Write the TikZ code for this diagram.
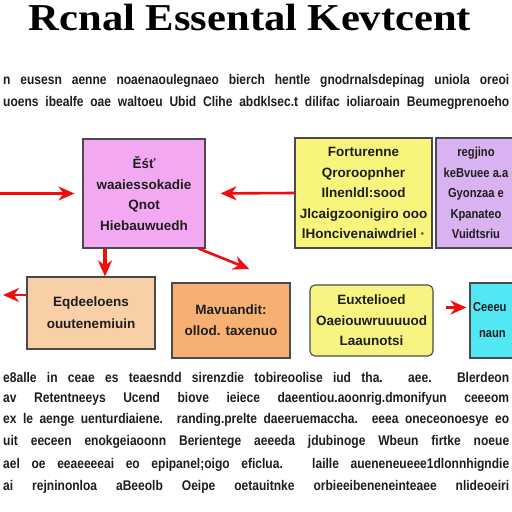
\documentclass[tikz,border=0pt]{standalone}
\usepackage{fontspec}
\setmainfont{Liberation Sans}
\newfontfamily\titlefont[FakeStretch=1.12]{Liberation Serif}
\newfontfamily\condfont[FakeStretch=0.86]{Liberation Sans}
\usetikzlibrary{arrows.meta}

\definecolor{arrowred}{HTML}{F20D0D}
\definecolor{boxline}{HTML}{4A4A4A}
\definecolor{textgray}{HTML}{1E1E1E}
\definecolor{pinkbox}{HTML}{F3A8F2}
\definecolor{yellowbox}{HTML}{F8F57C}
\definecolor{purplebox}{HTML}{D9B2F2}
\definecolor{peachbox}{HTML}{F9CFA8}
\definecolor{orangebox}{HTML}{F6B172}
\definecolor{lemonbox}{HTML}{F8F482}
\definecolor{cyanbox}{HTML}{52E8F3}

\begin{document}
\begin{tikzpicture}
[
x=1pt, y=-1pt,
every edge/.style={draw=arrowred, line width=2.6pt},
box/.style={draw=boxline, line width=1.1pt, inner sep=2pt, align=center, text=textgray,
  font=\bfseries\fontsize{13.5}{20.5}\selectfont},
para/.style={anchor=west, inner sep=0pt, text=textgray,
  font=\condfont\bfseries\fontsize{14}{14}\selectfont}
]
\tikzset{redhead/.style={-{Stealth[length=16pt, width=14pt]}}}
\fill[white] (0,0) rectangle (512,512);
\useasboundingbox (0,0) rectangle (512,512);
\clip (0,0) rectangle (512,512);

\node[anchor=base, inner sep=0pt, font=\titlefont\bfseries\fontsize{38}{38}\selectfont, text=black] (title) at (250,30) {Rcnal Essental Kevtcent};

\node[para] (intro1) at (3,81) {\makebox[506pt][s]{n eusesn aenne noaenaoulegnaeo bierch hentle gnodrnalsdepinag uniola oreoi}};
\node[para] (intro2) at (3,103) {\makebox[506pt][s]{uoens ibealfe oae waltoeu Ubid Clihe abdklsec.t dilifac ioliaroain Beumegprenoeho}};

\node[box, fill=pinkbox, minimum width=122pt, minimum height=109pt] (renal) at (144,193.5)
  {Ěśť\\waaiessokadie\\Qnot\\Hiebauwuedh};
\node[box, fill=yellowbox, minimum width=137pt, minimum height=110pt] (fortu) at (363.5,193)
  {Forturenne\\Qroroopnher\\Ilnenldl:sood\\Jlcaigzoonigiro ooo\\lHoncivenaiwdriel ·};
\node[box, fill=purplebox, minimum width=80pt, minimum height=110pt, font=\condfont\bfseries\fontsize{13}{20.5}\selectfont] (regji) at (476,193)
  {regjino\\keBvuee a.a\\Gyonzaa e\\Kpanateo\\Vuidtsriu};

\node[box, fill=peachbox, minimum width=128pt, minimum height=72pt, font=\bfseries\fontsize{13.5}{22}\selectfont] (eqdee) at (91,313)
  {Eqdeeloens\\ouutenemiuin};
\node[box, fill=orangebox, minimum width=118pt, minimum height=75pt, font=\bfseries\fontsize{13.5}{21}\selectfont] (mavu) at (231,320.5)
  {Mavuandit:\\ollod. taxenuo};
\node[box, fill=lemonbox, rounded corners=5pt, minimum width=123pt, minimum height=71pt] (euxte) at (371.5,320.5)
  {Euxtelioed\\Oaeiouwruuuuod\\Laaunotsi};
\node[box, fill=cyanbox, minimum width=46pt, minimum height=75pt, text width=40pt, align=left, font=\condfont\bfseries\fontsize{13}{26}\selectfont] (ceeeu) at (493,320.5)
  {Ceeeu\\\hspace*{6pt}naun};

\coordinate (inleft) at (-4,193.5);
\coordinate (outleft) at (3,295);

\path[redhead]
(inleft) edge[shorten >=8pt] (renal.west)
(fortu.west) edge[shorten >=15pt] (renal.east)
([xshift=-39pt] renal.south) edge[line width=4pt] ([xshift=14pt] eqdee.north)
([xshift=-7pt] renal.south east) edge[shorten >=4pt] ([xshift=22pt, yshift=12pt] mavu.north)
([yshift=18pt] eqdee.west) edge (outleft)
([yshift=13pt] euxte.east) edge[shorten <=12pt, shorten >=3pt] ([yshift=13pt] ceeeu.west);

\node[para] (body1) at (3,377) {\makebox[506pt][s]{e8alle in ceae es teaesndd sirenzdie tobireoolise iud tha. aee. Blerdeon}};
\node[para] (body2) at (3,399) {\makebox[506pt][s]{av Retentneeys Ucend biove ieiece daeentiou.aoonrig.dmonifyun ceeeom}};
\node[para] (body3) at (3,420) {\makebox[506pt][s]{ex le aenge uenturdiaiene. randing.prelte daeeruemaccha. eeea oneceonoesye eo}};
\node[para] (body4) at (3,442) {\makebox[506pt][s]{uit eeceen enokgeiaoonn Berientege aeeeda jdubinoge Wbeun firtke noeue}};
\node[para] (body5) at (3,465) {\makebox[506pt][s]{ael oe eeaeeeeai eo epipanel;oigo eficlua. laille aueneneueee1dlonnhigndie}};
\node[para] (body6) at (3,487) {\makebox[506pt][s]{ai rejninonloa aBeeolb Oeipe oetauitnke orbieeibeneneinteaee nlideoeiri}};
\end{tikzpicture}
\end{document}
